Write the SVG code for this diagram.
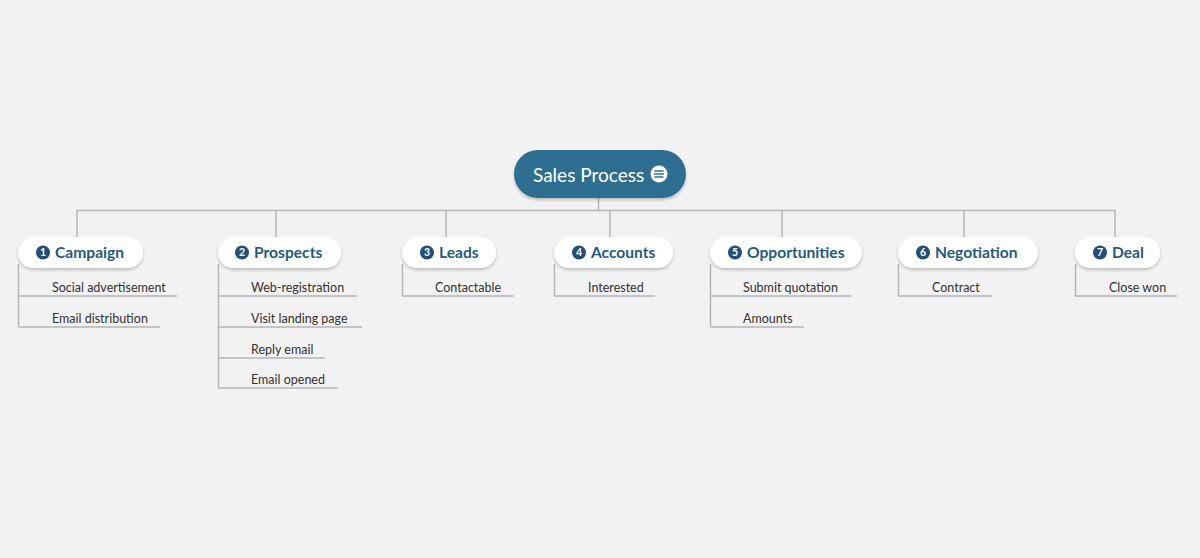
<svg xmlns="http://www.w3.org/2000/svg" width="1200" height="558" viewBox="0 0 1200 558">
<defs>
<filter id="sh" x="-20%" y="-30%" width="140%" height="170%">
<feDropShadow dx="0" dy="2" stdDeviation="1.6" flood-color="#000" flood-opacity="0.22"/>
</filter>
<style>
.ln{stroke:#b3b6b9;stroke-width:1.5;fill:none}
.pill{fill:#ffffff;filter:url(#sh)}
.lbl{font-family:Lato,"Open Sans",sans-serif;font-weight:bold;font-size:15.6px;fill:#1f5a83}
.num{fill:#234f7a}
.nt{font-family:Lato,"Open Sans",sans-serif;font-weight:bold;font-size:10.5px;fill:#fff;text-anchor:middle}
.ch{font-family:Lato,"Open Sans",sans-serif;font-size:12.5px;fill:#333}
</style>
</defs>
<rect width="1200" height="558" fill="#f2f2f2"/>
<g id="connectors">
<path class="ln" d="M598.5 198V210.5M77 210.5H1115M77 210V238M276 210V238M446 210V238M610 210V238M782 210V238M964 210V238M1115 210V238"/>
<path class="ln" d="M18.5 264V327M18.5 296H177M18.5 327H160"/>
<path class="ln" d="M218.5 264V388M218.5 296H357M218.5 327H362M218.5 358H325M218.5 388H338"/>
<path class="ln" d="M402.5 264V296H514"/>
<path class="ln" d="M554.5 264V296H655"/>
<path class="ln" d="M710.5 264V327M710.5 296H851M710.5 327H804"/>
<path class="ln" d="M898.5 264V296H992"/>
<path class="ln" d="M1075.5 264V296H1177"/>
</g>
<g id="root">
<rect x="514" y="150" width="172" height="48" rx="24" fill="#2e6e90" filter="url(#sh)"/>
<text x="533" y="182" font-family="Lato,'Open Sans',sans-serif" font-size="19" fill="#fff">Sales Process</text>
<circle cx="659" cy="174" r="8.5" fill="#fff"/>
<path d="M654.5 171H663.5M654 174H664M654.5 177H663.5" stroke="#2e6e90" stroke-width="1.4"/>
</g>
<g id="n1">
<rect class="pill" x="18" y="237" width="125" height="31" rx="15.5"/>
<circle class="num" cx="43" cy="252.5" r="7"/><text class="nt" x="43" y="256.3">1</text>
<text class="lbl" x="55" y="258">Campaign</text>
<text class="ch" x="52" y="291.5">Social advertisement</text>
<text class="ch" x="52" y="322.5">Email distribution</text>
</g>
<g id="n2">
<rect class="pill" x="218" y="237" width="123" height="31" rx="15.5"/>
<circle class="num" cx="242" cy="252.5" r="7"/><text class="nt" x="242" y="256.3">2</text>
<text class="lbl" x="254" y="258">Prospects</text>
<text class="ch" x="251" y="291.5">Web-registration</text>
<text class="ch" x="251" y="322.5">Visit landing page</text>
<text class="ch" x="251" y="353.5">Reply email</text>
<text class="ch" x="251" y="384">Email opened</text>
</g>
<g id="n3">
<rect class="pill" x="402" y="237" width="94" height="31" rx="15.5"/>
<circle class="num" cx="427" cy="252.5" r="7"/><text class="nt" x="427" y="256.3">3</text>
<text class="lbl" x="439" y="258">Leads</text>
<text class="ch" x="435" y="291.5">Contactable</text>
</g>
<g id="n4">
<rect class="pill" x="554" y="237" width="119" height="31" rx="15.5"/>
<circle class="num" cx="579" cy="252.5" r="7"/><text class="nt" x="579" y="256.3">4</text>
<text class="lbl" x="591" y="258">Accounts</text>
<text class="ch" x="588" y="291.5">Interested</text>
</g>
<g id="n5">
<rect class="pill" x="710" y="237" width="152" height="31" rx="15.5"/>
<circle class="num" cx="735" cy="252.5" r="7"/><text class="nt" x="735" y="256.3">5</text>
<text class="lbl" x="747" y="258">Opportunities</text>
<text class="ch" x="743" y="291.5">Submit quotation</text>
<text class="ch" x="743" y="322.5">Amounts</text>
</g>
<g id="n6">
<rect class="pill" x="898" y="237" width="140" height="31" rx="15.5"/>
<circle class="num" cx="923" cy="252.5" r="7"/><text class="nt" x="923" y="256.3">6</text>
<text class="lbl" x="935" y="258">Negotiation</text>
<text class="ch" x="932" y="291.5">Contract</text>
</g>
<g id="n7">
<rect class="pill" x="1075" y="237" width="85" height="31" rx="15.5"/>
<circle class="num" cx="1100" cy="252.5" r="7"/><text class="nt" x="1100" y="256.3">7</text>
<text class="lbl" x="1112" y="258">Deal</text>
<text class="ch" x="1109" y="291.5">Close won</text>
</g>
</svg>
